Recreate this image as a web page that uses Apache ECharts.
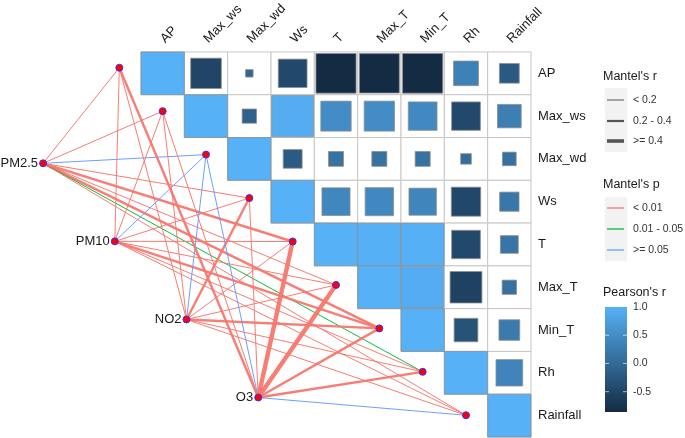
<!DOCTYPE html>
<html><head><meta charset="utf-8">
<script src="https://cdn.jsdelivr.net/npm/echarts@6/dist/echarts.min.js"></script>
<style>html,body{margin:0;padding:0;background:#fff}#c{width:685px;height:438px}</style>
</head><body><div id="c"></div>
<script>
const envVars = ['AP','Max_ws','Max_wd','Ws','T','Max_T','Min_T','Rh','Rainfall'];
// Pearson's r, upper triangle: row i holds columns i..8
const rAP       = [1.00,-0.50,-0.03,-0.44,-0.86,-0.85,-0.86, 0.33,-0.21];
const rMaxWs    = [1.00,-0.11, 0.94, 0.49, 0.49, 0.44,-0.44, 0.30];
const rMaxWd    = [1.00,-0.19, 0.12, 0.12, 0.12, 0.06, 0.10];
const rWs       = [1.00, 0.42, 0.43, 0.40,-0.46, 0.20];
const rT        = [1.00, 0.99, 0.98,-0.44, 0.17];
const rMaxT     = [1.00, 0.95,-0.54, 0.11];
const rMinT     = [1.00,-0.30, 0.23];
const rRh       = [1.00, 0.38];
const rRainfall = [1.00];

const pollutants = ['PM2.5','PM10','NO2','O3'];
// Mantel's r and p for each pollutant against envVars
const mantelR_PM25 = [0.10,0.10,0.05,0.10,0.30,0.15,0.30,0.10,0.10];
const mantelP_PM25 = [0.001,0.001,0.20,0.001,0.001,0.001,0.001,0.03,0.001];
const mantelR_PM10 = [0.10,0.10,0.05,0.10,0.10,0.10,0.30,0.10,0.10];
const mantelP_PM10 = [0.001,0.001,0.20,0.001,0.001,0.001,0.001,0.001,0.001];
const mantelR_NO2  = [0.10,0.10,0.05,0.30,0.10,0.10,0.30,0.10,0.10];
const mantelP_NO2  = [0.001,0.001,0.20,0.001,0.001,0.001,0.001,0.001,0.001];
const mantelR_O3   = [0.30,0.10,0.05,0.10,0.50,0.50,0.30,0.30,0.05];
const mantelP_O3   = [0.001,0.001,0.20,0.001,0.001,0.001,0.001,0.001,0.20];

const cbTicks = [-0.5, 0.0, 0.5, 1.0];
const cbMin = -0.86, cbMax = 1.0;

const FONT = "'Liberation Sans', Arial, sans-serif";
const LOW = [19,43,67], HIGH = [86,177,247];
function colorOf(r){
  let t = (r - cbMin)/(cbMax - cbMin); t = Math.max(0, Math.min(1, t));
  const c = LOW.map((v,i)=>Math.round(v + (HIGH[i]-v)*t));
  return 'rgb(' + c.join(',') + ')';
}

const corrRows = [rAP,rMaxWs,rMaxWd,rWs,rT,rMaxT,rMinT,rRh,rRainfall];
const cellData = [];
corrRows.forEach((row,i)=>row.forEach((r,k)=>cellData.push([i+k, i, r])));

const mR = [mantelR_PM25, mantelR_PM10, mantelR_NO2, mantelR_O3];
const mP = [mantelP_PM25, mantelP_PM10, mantelP_NO2, mantelP_O3];
const edgeData = [];
mR.forEach((arr,k)=>arr.forEach((r,e)=>edgeData.push([k, e, r, mP[k][e]])));

// layout (in cell units of the network grid)
function envPos(e){ return [e - 0.5, e + 0.5]; }
function polPos(k){ return [-2.26 + k*1.655, 2.70 + k*1.797]; }
function widthOf(r){ return r < 0.2 ? 1.0 : (r < 0.4 ? 2.4 : 4.4); }
function pColor(p){ return p < 0.01 ? '#F8766D' : (p < 0.05 ? '#00BA38' : '#619CFF'); }

const nodeData = envVars.map((n,e)=>({name:n, value:envPos(e), label:{show:false}}))
  .concat(pollutants.map((n,k)=>({name:n, value:polPos(k), label:{show:true}})));

const chart = echarts.init(document.getElementById('c'), null, {renderer:'canvas'});
const grid = {left:141, top:46, width:390, height:391};
chart.setOption({
  animation:false,
  backgroundColor:'#fff',
  grid:[Object.assign({},grid), Object.assign({},grid), {left:605, top:307, width:22, height:105}],
  xAxis:[
    {type:'category', data:envVars, gridIndex:0, position:'top',
     axisLine:{show:false}, axisTick:{show:false}, splitLine:{show:false},
     axisLabel:{rotate:-45, margin:11, fontSize:13, fontFamily:FONT, color:'#1a1a1a', interval:0}},
    {type:'value', gridIndex:1, min:0, max:9, show:false},
    {type:'value', gridIndex:2, min:0, max:1, show:false}
  ],
  yAxis:[
    {type:'category', data:envVars, gridIndex:0, inverse:true, position:'right',
     axisLine:{show:false}, axisTick:{show:false}, splitLine:{show:false},
     axisLabel:{margin:7, fontSize:13, fontFamily:FONT, color:'#1a1a1a', interval:0}},
    {type:'value', gridIndex:1, min:0, max:9, inverse:true, show:false},
    {type:'value', gridIndex:2, min:cbMin, max:cbMax, position:'right',
     axisLine:{show:false}, axisTick:{show:false}, splitLine:{show:false},
     axisLabel:{customValues:cbTicks, formatter:v=>v.toFixed(1), margin:6, fontSize:10.5, fontFamily:FONT, color:'#333'}}
  ],
  series:[
    { // cell grid
      type:'custom', xAxisIndex:0, yAxisIndex:0, data:cellData, silent:true,
      renderItem(params, api){
        const c = api.coord([api.value(0), api.value(1)]);
        const s = api.size([1,1]);
        return {type:'rect', shape:{x:c[0]-s[0]/2, y:c[1]-s[1]/2, width:s[0], height:s[1]},
                style:{fill:'#fff', stroke:'#c6c6c6', lineWidth:1}};
      }
    },
    { // squares
      type:'custom', xAxisIndex:0, yAxisIndex:0, data:cellData, silent:true,
      renderItem(params, api){
        const c = api.coord([api.value(0), api.value(1)]);
        const s = api.size([1,1]);
        const r = api.value(2);
        const f = Math.sqrt(Math.abs(r));
        const w = s[0]*f, h = s[1]*f;
        return {type:'rect', shape:{x:c[0]-w/2, y:c[1]-h/2, width:w, height:h},
                style:{fill:colorOf(r), stroke:'#8e8e8e', lineWidth:0.8}};
      }
    },
    { // mantel links
      type:'custom', xAxisIndex:1, yAxisIndex:1, data:edgeData, silent:true, clip:false,
      renderItem(params, api){
        const k = api.value(0), e = api.value(1);
        const a = api.coord(polPos(k)), b = api.coord(envPos(e));
        return {type:'line', shape:{x1:a[0], y1:a[1], x2:b[0], y2:b[1]},
                style:{stroke:pColor(api.value(3)), lineWidth:widthOf(api.value(2)), opacity:0.95}};
      }
    },
    { // nodes
      type:'scatter', xAxisIndex:1, yAxisIndex:1, data:nodeData, clip:false, silent:true,
      symbol:'circle', symbolSize:7,
      itemStyle:{color:'#FF0000', borderColor:'#3333FF', borderWidth:1, opacity:1},
      label:{position:'left', distance:1, formatter:'{b}', fontSize:13, fontFamily:FONT, color:'#1a1a1a'}
    },
    { // colorbar
      type:'custom', xAxisIndex:2, yAxisIndex:2, data:[[0]], silent:true, clip:false,
      renderItem(params, api){
        const p0 = api.coord([0, cbMax]), p1 = api.coord([1, cbMin]);
        const stops = [];
        for (let i=0;i<=10;i++){ const t=i/10; stops.push({offset:t, color:colorOf(cbMax - t*(cbMax-cbMin))}); }
        const children = [{type:'rect', shape:{x:p0[0], y:p0[1], width:p1[0]-p0[0], height:p1[1]-p0[1]},
          style:{fill:{type:'linear', x:0, y:0, x2:0, y2:1, colorStops:stops}}}];
        cbTicks.forEach(v=>{
          if (v >= cbMax) return;
          const y = api.coord([0, v])[1];
          children.push({type:'line', shape:{x1:p0[0], y1:y, x2:p0[0]+4, y2:y}, style:{stroke:'#fff', lineWidth:0.8, opacity:0.8}});
          children.push({type:'line', shape:{x1:p1[0]-4, y1:y, x2:p1[0], y2:y}, style:{stroke:'#fff', lineWidth:0.8, opacity:0.8}});
        });
        return {type:'group', children};
      }
    }
  ],
  graphic:[
    {type:'text', x:603, y:77, style:{text:"Mantel's r", fontSize:12.5, fontFamily:FONT, fill:'#1a1a1a', verticalAlign:'middle'}},
    {type:'rect', shape:{x:605, y:88, width:22, height:64}, style:{fill:'#f2f2f2'}},
    {type:'line', shape:{x1:607, y1:100, x2:624, y2:100}, style:{stroke:'#555', lineWidth:1}},
    {type:'line', shape:{x1:607, y1:121, x2:624, y2:121}, style:{stroke:'#555', lineWidth:2.2}},
    {type:'line', shape:{x1:607, y1:141, x2:624, y2:141}, style:{stroke:'#555', lineWidth:3.6}},
    {type:'text', x:633, y:100, style:{text:'< 0.2', fontSize:10.5, fontFamily:FONT, fill:'#333', verticalAlign:'middle'}},
    {type:'text', x:633, y:121, style:{text:'0.2 - 0.4', fontSize:10.5, fontFamily:FONT, fill:'#333', verticalAlign:'middle'}},
    {type:'text', x:633, y:141, style:{text:'>= 0.4', fontSize:10.5, fontFamily:FONT, fill:'#333', verticalAlign:'middle'}},

    {type:'text', x:603, y:185, style:{text:"Mantel's p", fontSize:12.5, fontFamily:FONT, fill:'#1a1a1a', verticalAlign:'middle'}},
    {type:'rect', shape:{x:605, y:197, width:22, height:64}, style:{fill:'#f2f2f2'}},
    {type:'line', shape:{x1:607, y1:208, x2:624, y2:208}, style:{stroke:'#F8766D', lineWidth:1.3}},
    {type:'line', shape:{x1:607, y1:229, x2:624, y2:229}, style:{stroke:'#00BA38', lineWidth:1.3}},
    {type:'line', shape:{x1:607, y1:250, x2:624, y2:250}, style:{stroke:'#619CFF', lineWidth:1.3}},
    {type:'text', x:633, y:208, style:{text:'< 0.01', fontSize:10.5, fontFamily:FONT, fill:'#333', verticalAlign:'middle'}},
    {type:'text', x:633, y:229, style:{text:'0.01 - 0.05', fontSize:10.5, fontFamily:FONT, fill:'#333', verticalAlign:'middle'}},
    {type:'text', x:633, y:250, style:{text:'>= 0.05', fontSize:10.5, fontFamily:FONT, fill:'#333', verticalAlign:'middle'}},

    {type:'text', x:603, y:293, style:{text:"Pearson's r", fontSize:12.5, fontFamily:FONT, fill:'#1a1a1a', verticalAlign:'middle'}}
  ]
});
</script></body></html>
